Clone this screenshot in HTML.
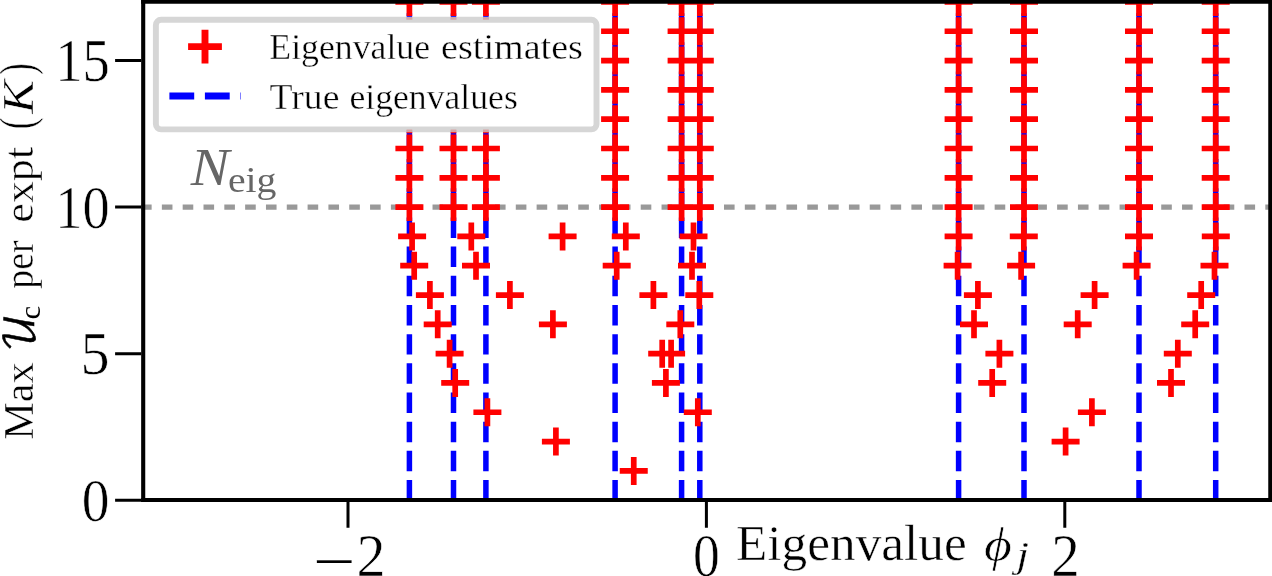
<!DOCTYPE html>
<html lang="en"><head><meta charset="utf-8"><title>Eigenvalue estimates</title>
<style>html,body{margin:0;padding:0;background:#fff;overflow:hidden}svg{display:block}text{font-family:"Liberation Serif","DejaVu Serif",serif;fill:#000}</style></head><body>
<svg width="1272" height="576" viewBox="0 0 1272 576">
<rect x="0" y="0" width="1272" height="576" fill="#fff"/>
<g stroke="#0000ff" stroke-width="5.5" stroke-dasharray="20.45 8.73" fill="none">
<path d="M409.4 500.5V-2"/>
<path d="M453.5 500.5V-2"/>
<path d="M485.9 500.5V-2"/>
<path d="M615.1 500.5V-2"/>
<path d="M681.6 500.5V-2"/>
<path d="M699.8 500.5V-2"/>
<path d="M958.6 500.5V-2"/>
<path d="M1024.0 500.5V-2"/>
<path d="M1139.0 500.5V-2"/>
<path d="M1215.7 500.5V-2"/>
</g>
<path d="M141.04 207.10H1272" stroke="#999999" stroke-width="5.2" stroke-dasharray="10.6 10.22" fill="none"/>
<path d="M619.75 470.89h28.0M633.75 456.89v28.0M541.90 441.58h28.0M555.90 427.58v28.0M1051.60 441.58h28.0M1065.60 427.58v28.0M473.40 412.27h28.0M487.40 398.27v28.0M683.80 412.27h28.0M697.80 398.27v28.0M1077.90 412.27h28.0M1091.90 398.27v28.0M441.20 382.96h28.0M455.20 368.96v28.0M651.90 382.96h28.0M665.90 368.96v28.0M978.20 382.96h28.0M992.20 368.96v28.0M1157.00 382.96h28.0M1171.00 368.96v28.0M435.60 353.65h28.0M449.60 339.65v28.0M648.20 353.65h28.0M662.20 339.65v28.0M657.10 353.65h28.0M671.10 339.65v28.0M985.40 353.65h28.0M999.40 339.65v28.0M1163.80 353.65h28.0M1177.80 339.65v28.0M423.70 324.34h28.0M437.70 310.34v28.0M538.90 324.34h28.0M552.90 310.34v28.0M666.30 324.34h28.0M680.30 310.34v28.0M960.00 324.34h28.0M974.00 310.34v28.0M1063.70 324.34h28.0M1077.70 310.34v28.0M1181.20 324.34h28.0M1195.20 310.34v28.0M415.90 295.03h28.0M429.90 281.03v28.0M495.90 295.03h28.0M509.90 281.03v28.0M639.40 295.03h28.0M653.40 281.03v28.0M685.30 295.03h28.0M699.30 281.03v28.0M963.90 295.03h28.0M977.90 281.03v28.0M1080.60 295.03h28.0M1094.60 281.03v28.0M1187.20 295.03h28.0M1201.20 281.03v28.0M400.20 265.72h28.0M414.20 251.72v28.0M462.00 265.72h28.0M476.00 251.72v28.0M602.70 265.72h28.0M616.70 251.72v28.0M678.00 265.72h28.0M692.00 251.72v28.0M943.60 265.72h28.0M957.60 251.72v28.0M1007.10 265.72h28.0M1021.10 251.72v28.0M1122.60 265.72h28.0M1136.60 251.72v28.0M1200.50 265.72h28.0M1214.50 251.72v28.0M398.10 236.41h28.0M412.10 222.41v28.0M457.30 236.41h28.0M471.30 222.41v28.0M548.60 236.41h28.0M562.60 222.41v28.0M611.80 236.41h28.0M625.80 222.41v28.0M679.50 236.41h28.0M693.50 222.41v28.0M944.60 236.41h28.0M958.60 222.41v28.0M1009.80 236.41h28.0M1023.80 222.41v28.0M1125.00 236.41h28.0M1139.00 222.41v28.0M1201.80 236.41h28.0M1215.80 222.41v28.0M395.40 207.10h28.0M409.40 193.10v28.0M439.50 207.10h28.0M453.50 193.10v28.0M471.90 207.10h28.0M485.90 193.10v28.0M601.10 207.10h28.0M615.10 193.10v28.0M667.60 207.10h28.0M681.60 193.10v28.0M685.80 207.10h28.0M699.80 193.10v28.0M944.60 207.10h28.0M958.60 193.10v28.0M1010.00 207.10h28.0M1024.00 193.10v28.0M1125.00 207.10h28.0M1139.00 193.10v28.0M1201.70 207.10h28.0M1215.70 193.10v28.0M395.40 177.79h28.0M409.40 163.79v28.0M439.50 177.79h28.0M453.50 163.79v28.0M471.90 177.79h28.0M485.90 163.79v28.0M601.10 177.79h28.0M615.10 163.79v28.0M667.60 177.79h28.0M681.60 163.79v28.0M685.80 177.79h28.0M699.80 163.79v28.0M944.60 177.79h28.0M958.60 163.79v28.0M1010.00 177.79h28.0M1024.00 163.79v28.0M1125.00 177.79h28.0M1139.00 163.79v28.0M1201.70 177.79h28.0M1215.70 163.79v28.0M395.40 148.48h28.0M409.40 134.48v28.0M439.50 148.48h28.0M453.50 134.48v28.0M471.90 148.48h28.0M485.90 134.48v28.0M601.10 148.48h28.0M615.10 134.48v28.0M667.60 148.48h28.0M681.60 134.48v28.0M685.80 148.48h28.0M699.80 134.48v28.0M944.60 148.48h28.0M958.60 134.48v28.0M1010.00 148.48h28.0M1024.00 134.48v28.0M1125.00 148.48h28.0M1139.00 134.48v28.0M1201.70 148.48h28.0M1215.70 134.48v28.0M395.40 119.17h28.0M409.40 105.17v28.0M439.50 119.17h28.0M453.50 105.17v28.0M471.90 119.17h28.0M485.90 105.17v28.0M601.10 119.17h28.0M615.10 105.17v28.0M667.60 119.17h28.0M681.60 105.17v28.0M685.80 119.17h28.0M699.80 105.17v28.0M944.60 119.17h28.0M958.60 105.17v28.0M1010.00 119.17h28.0M1024.00 105.17v28.0M1125.00 119.17h28.0M1139.00 105.17v28.0M1201.70 119.17h28.0M1215.70 105.17v28.0M395.40 89.86h28.0M409.40 75.86v28.0M439.50 89.86h28.0M453.50 75.86v28.0M471.90 89.86h28.0M485.90 75.86v28.0M601.10 89.86h28.0M615.10 75.86v28.0M667.60 89.86h28.0M681.60 75.86v28.0M685.80 89.86h28.0M699.80 75.86v28.0M944.60 89.86h28.0M958.60 75.86v28.0M1010.00 89.86h28.0M1024.00 75.86v28.0M1125.00 89.86h28.0M1139.00 75.86v28.0M1201.70 89.86h28.0M1215.70 75.86v28.0M395.40 60.55h28.0M409.40 46.55v28.0M439.50 60.55h28.0M453.50 46.55v28.0M471.90 60.55h28.0M485.90 46.55v28.0M601.10 60.55h28.0M615.10 46.55v28.0M667.60 60.55h28.0M681.60 46.55v28.0M685.80 60.55h28.0M699.80 46.55v28.0M944.60 60.55h28.0M958.60 46.55v28.0M1010.00 60.55h28.0M1024.00 46.55v28.0M1125.00 60.55h28.0M1139.00 46.55v28.0M1201.70 60.55h28.0M1215.70 46.55v28.0M395.40 31.24h28.0M409.40 17.24v28.0M439.50 31.24h28.0M453.50 17.24v28.0M471.90 31.24h28.0M485.90 17.24v28.0M601.10 31.24h28.0M615.10 17.24v28.0M667.60 31.24h28.0M681.60 17.24v28.0M685.80 31.24h28.0M699.80 17.24v28.0M944.60 31.24h28.0M958.60 17.24v28.0M1010.00 31.24h28.0M1024.00 17.24v28.0M1125.00 31.24h28.0M1139.00 17.24v28.0M1201.70 31.24h28.0M1215.70 17.24v28.0M395.40 1.93h28.0M409.40 -12.07v28.0M439.50 1.93h28.0M453.50 -12.07v28.0M471.90 1.93h28.0M485.90 -12.07v28.0M601.10 1.93h28.0M615.10 -12.07v28.0M667.60 1.93h28.0M681.60 -12.07v28.0M685.80 1.93h28.0M699.80 -12.07v28.0M944.60 1.93h28.0M958.60 -12.07v28.0M1010.00 1.93h28.0M1024.00 -12.07v28.0M1125.00 1.93h28.0M1139.00 -12.07v28.0M1201.70 1.93h28.0M1215.70 -12.07v28.0" stroke="#ff0000" stroke-width="5.7" fill="none"/>
<rect x="155.9" y="19.8" width="440.6" height="109.6" rx="5.2" ry="5.2" fill="#fff"/>
<rect x="155.9" y="19.8" width="440.6" height="109.6" rx="5.2" ry="5.2" fill="none" stroke="#cccccc" stroke-opacity="0.8" stroke-width="5.9"/>
<path d="M188.1 46.6h33.8M205 29.7v33.8" stroke="#ff0000" stroke-width="6.9" fill="none"/>
<path d="M169.4 96H240.9" stroke="#0000ff" stroke-width="7" stroke-dasharray="24.8 10.7" fill="none"/>
<g stroke="#000" fill="none">
<path d="M143.2 -2V502.05" stroke-width="4.1"/>
<path d="M1270.3 -2V502.05" stroke-width="4.1"/>
<path d="M141.15 500.0H1272.4" stroke-width="4.1"/>
<path d="M141.15 1.6H1272.4" stroke-width="4.1"/>
<path d="M115.1 500.20H141.2M115.1 353.65H141.2M115.1 207.10H141.2M115.1 60.55H141.2M348.00 502.0V527.8M706.40 502.0V527.8M1064.80 502.0V527.8" stroke-width="3"/>
</g>
<text transform="translate(269.32 59.20) scale(0.9796 1)" font-size="36.5" style="stroke:#fff;stroke-width:0.4">Eigenvalue</text>
<text transform="translate(441.03 59.20) scale(1.0451 1)" font-size="36.5" style="stroke:#fff;stroke-width:0.4">estimates</text>
<text transform="translate(269.52 108.90) scale(1.0342 1)" font-size="36.5" style="stroke:#fff;stroke-width:0.4">True</text>
<text transform="translate(349.43 108.90) scale(0.9776 1)" font-size="36.5" style="stroke:#fff;stroke-width:0.4">eigenvalues</text>
<text transform="translate(190.66 184.70) scale(1.1120 1)" font-size="52" style="font-style:italic;fill:#666">N</text>
<text transform="translate(227.88 191.70) scale(1.1362 1)" font-size="35" style="fill:#666">eig</text>
<text transform="translate(55.22 81.10) scale(0.8879 1)" font-size="61.5" style="stroke:#fff;stroke-width:0.6">15</text>
<text transform="translate(55.24 227.60) scale(0.8837 1)" font-size="61.5" style="stroke:#fff;stroke-width:0.6">10</text>
<text transform="translate(80.59 374.25) scale(0.9455 1)" font-size="61.5" style="stroke:#fff;stroke-width:0.6">5</text>
<text transform="translate(81.87 521.20) scale(0.9029 1)" font-size="61.5" style="stroke:#fff;stroke-width:0.6">0</text>
<text transform="translate(313.02 581.50) scale(1.2278 1)" font-size="61.5" style="stroke:#fff;stroke-width:0.3">−</text>
<text transform="translate(356.40 576.00) scale(0.9455 1)" font-size="61.5" style="stroke:#fff;stroke-width:0.6">2</text>
<text transform="translate(693.04 576.00) scale(0.8724 1)" font-size="61.5" style="stroke:#fff;stroke-width:0.6">0</text>
<text transform="translate(1051.34 576.00) scale(0.9293 1)" font-size="61.5" style="stroke:#fff;stroke-width:0.6">2</text>
<text transform="translate(735.96 560.30) scale(1.0268 1)" font-size="50" style="stroke:#fff;stroke-width:0.5">Eigenvalue</text>
<text transform="translate(983.90 561.00) scale(1.1011 1)" font-size="49" style="font-style:italic;stroke:#fff;stroke-width:0.6">ϕ</text>
<text transform="translate(1016.59 567.20) scale(1.2784 1)" font-size="35" style="font-style:italic;stroke:#fff;stroke-width:0.3">j</text>
<g transform="translate(33.2 438.6) rotate(-90)">
<text transform="translate(-1.23 0.00) scale(0.9844 1)" font-size="43" style="stroke:#fff;stroke-width:0.5">Max</text>
<text transform="translate(87.33 0.30) scale(0.9139 1)" font-size="41.5" style="font-family:'DejaVu Math TeX Gyre','Liberation Serif','DejaVu Serif',serif;stroke:#000;stroke-width:0.6">𝒰</text>
<text transform="translate(119.07 7.00) scale(1.0261 1)" font-size="30">c</text>
<text transform="translate(149.84 0.00) scale(0.8800 1)" font-size="43" style="stroke:#fff;stroke-width:0.5">per</text>
<text transform="translate(215.80 0.00) scale(1.0264 1)" font-size="43" style="stroke:#fff;stroke-width:0.5">expt</text>
<text transform="translate(309.43 0.00) scale(0.7360 1)" font-size="48" style="stroke:#fff;stroke-width:0.5">(</text>
<text transform="translate(324.96 -0.40) scale(1.1231 1)" font-size="45" style="font-style:italic;stroke:#fff;stroke-width:0.5">K</text>
<text transform="translate(364.16 0.00) scale(0.6960 1)" font-size="48" style="stroke:#fff;stroke-width:0.5">)</text>
</g>
</svg></body></html>
